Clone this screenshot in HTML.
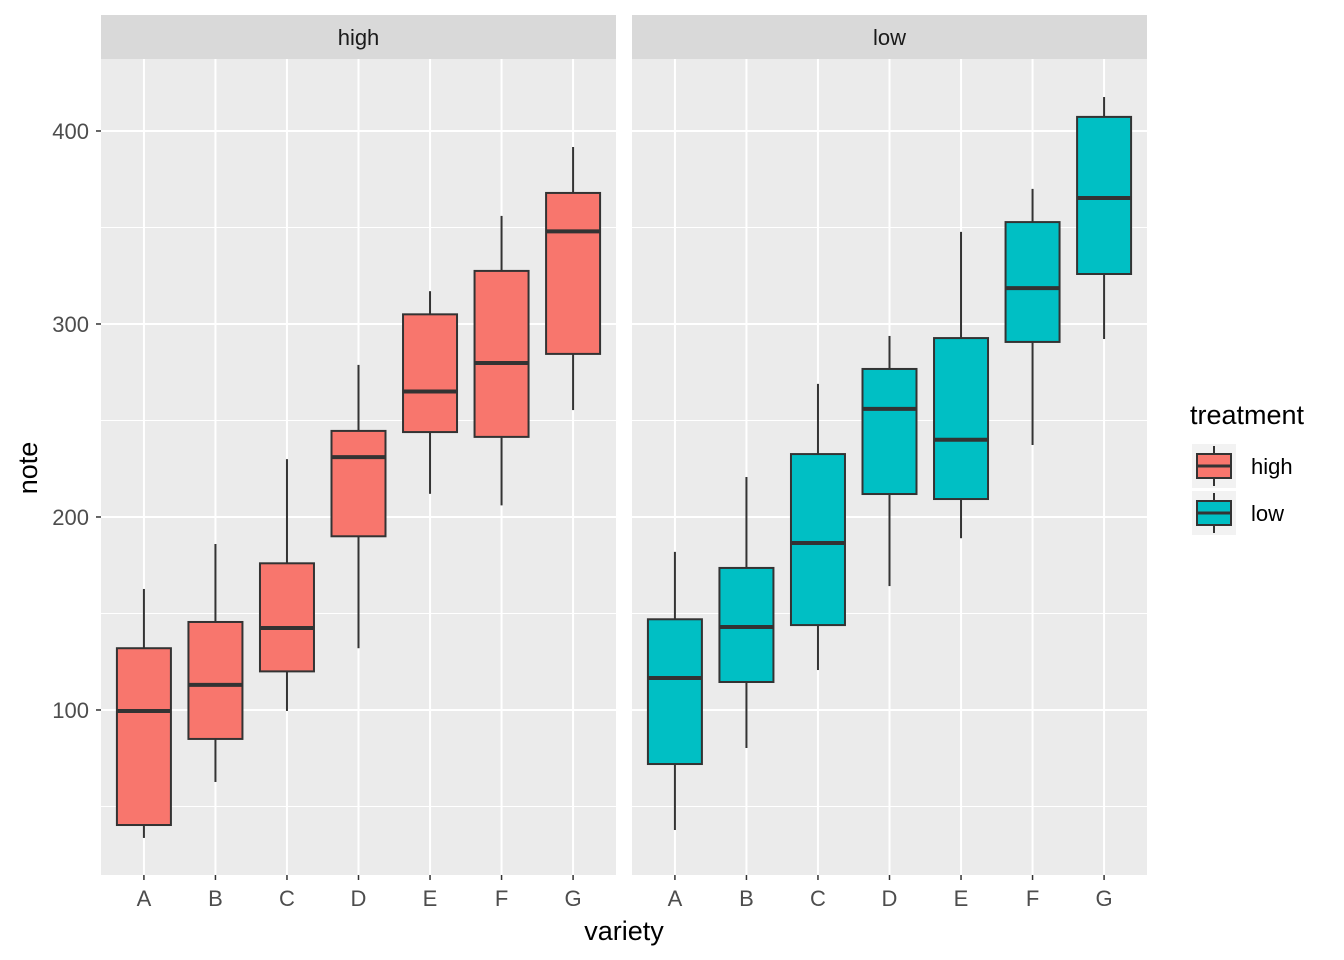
<!DOCTYPE html>
<html><head><meta charset="utf-8"><style>body{margin:0;background:#fff}svg{display:block;font-family:"Liberation Sans",Arial,sans-serif}</style></head>
<body>
<svg id="chart" width="1344" height="960" viewBox="0 0 1344 960" xmlns="http://www.w3.org/2000/svg"></svg>
<script>
const categories = ["A","B","C","D","E","F","G"];
const panels = ["high","low"];
const highMin = [33.7,62.7,99.5,132,212,206,255.4];
const highQ1 = [40.4,85,120,190,244,241.5,284.5];
const highMed = [99.5,113,142.5,231,265,279.8,348];
const highQ3 = [132,145.6,176,244.6,305,327.5,367.9];
const highMax = [162.7,186,230,278.8,317,356,391.7];
const lowMin = [37.8,80.3,120.7,164.2,189,237.3,292.2];
const lowQ1 = [72,114.5,144,211.9,209.3,290.7,325.9];
const lowMed = [116.6,143,186.5,256,240,318.6,365.3];
const lowQ3 = [147,173.6,232.6,276.7,292.7,352.8,407.3];
const lowMax = [181.9,220.7,269,293.8,347.7,370,417.6];
const yTicks = [100,200,300,400];
const yMinor = [50,150,250,350];

(function(){
const svg = document.getElementById('chart');
const NS = 'http://www.w3.org/2000/svg';
function mk(tag, attrs, parent){const e=document.createElementNS(NS,tag);for(const k in attrs)e.setAttribute(k,attrs[k]);(parent||svg).appendChild(e);return e;}
const plotTop=59, plotBottom=875, vTop=437.3, vBot=14.5;
function y(v){return plotBottom-(v-vBot)/(vTop-vBot)*(plotBottom-plotTop);}
const panelX=[101,632], panelW=515;
function x(i,p){return panelX[p]+panelW*(i+0.6)/7.2;}
const data=[[highMin,highQ1,highMed,highQ3,highMax],[lowMin,lowQ1,lowMed,lowQ3,lowMax]];
const fills=["#F8766D","#00BFC4"];
panels.forEach((name,p)=>{
  const g=mk('g',{});
  
  
  mk('rect',{x:panelX[p],y:plotTop,width:panelW,height:plotBottom-plotTop,fill:'#EBEBEB'},g);
  yMinor.forEach(v=>mk('line',{x1:panelX[p],x2:panelX[p]+panelW,y1:y(v),y2:y(v),stroke:'#fff','stroke-width':1},g));
  yTicks.forEach(v=>mk('line',{x1:panelX[p],x2:panelX[p]+panelW,y1:y(v),y2:y(v),stroke:'#fff','stroke-width':2},g));
  categories.forEach((c,i)=>mk('line',{x1:x(i,p),x2:x(i,p),y1:plotTop,y2:plotBottom,stroke:'#fff','stroke-width':2},g));
  const s=mk('rect',{x:panelX[p],y:15,width:panelW,height:44,fill:'#D9D9D9'},g);
  
  
  const st=mk('text',{x:panelX[p]+panelW/2,y:45,'text-anchor':'middle','font-size':22,fill:'#1a1a1a'},g);
  st.textContent=name;
  const d=data[p];
  categories.forEach((c,i)=>{
    const cx=x(i,p), hw=27;
    const b=mk('g',{},g);
    
    
    mk('line',{x1:cx,x2:cx,y1:y(d[4][i]),y2:y(d[3][i]),stroke:'#333','stroke-width':2},b);
    mk('line',{x1:cx,x2:cx,y1:y(d[1][i]),y2:y(d[0][i]),stroke:'#333','stroke-width':2},b);
    mk('rect',{x:cx-hw,y:y(d[3][i]),width:hw*2,height:y(d[1][i])-y(d[3][i]),fill:fills[p],stroke:'#333','stroke-width':2},b);
    mk('line',{x1:cx-hw,x2:cx+hw,y1:y(d[2][i]),y2:y(d[2][i]),stroke:'#333','stroke-width':4},b);
    mk('line',{x1:cx,x2:cx,y1:plotBottom,y2:plotBottom+5,stroke:'#333','stroke-width':1.5},g);
    const t=mk('text',{x:cx,y:906,'text-anchor':'middle','font-size':22,fill:'#4d4d4d'},g);
    
    
    t.textContent=c;
  });
});
yTicks.forEach(v=>{
  mk('line',{x1:96,x2:101,y1:y(v),y2:y(v),stroke:'#333','stroke-width':1.5});
  const t=mk('text',{x:89,y:y(v)+8,'text-anchor':'end','font-size':22,fill:'#4d4d4d'});
  
  
  t.textContent=v;
});
const xt=mk('text',{x:624,y:940,'text-anchor':'middle','font-size':27,fill:'#000'});


xt.textContent='variety';
const yt=mk('text',{x:37,y:468,'text-anchor':'middle','font-size':27,fill:'#000',transform:'rotate(-90 37 468)'});


yt.textContent='note';
const lg=mk('g',{});


const lt=mk('text',{x:1190,y:424,'font-size':27,fill:'#000'},lg);
lt.textContent='treatment';
panels.forEach((name,k)=>{
  const y0=444+k*47;
  const e=mk('g',{},lg);
  
  
  mk('rect',{x:1192,y:y0,width:44,height:44,fill:'#F2F2F2'},e);
  mk('line',{x1:1214,x2:1214,y1:y0+2,y2:y0+42,stroke:'#333','stroke-width':2},e);
  mk('rect',{x:1197,y:y0+10,width:34,height:24,fill:fills[k],stroke:'#333','stroke-width':2},e);
  mk('line',{x1:1197,x2:1231,y1:y0+22,y2:y0+22,stroke:'#333','stroke-width':3},e);
  const t=mk('text',{x:1251,y:y0+30,'font-size':22,fill:'#000'},e);
  t.textContent=name;
});
})();
</script>
</body></html>
